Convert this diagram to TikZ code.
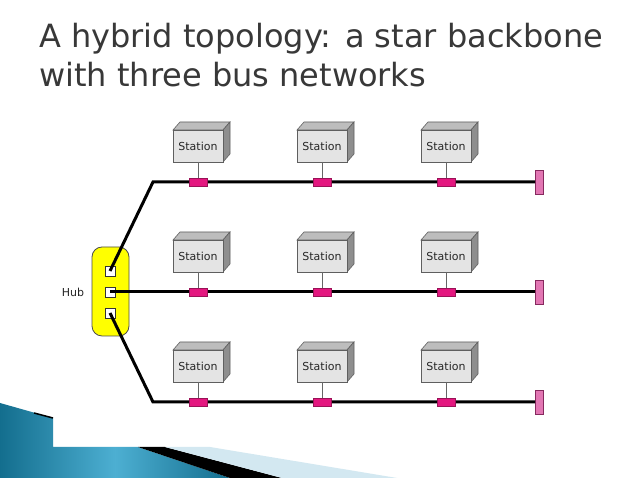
\documentclass[tikz,border=0pt]{standalone}
\usepackage{fontspec}
\setmainfont{DejaVu Sans}
\usetikzlibrary{calc,positioning}

\definecolor{titlegray}{HTML}{383838}
\definecolor{stfront}{HTML}{E4E4E4}
\definecolor{sttop}{HTML}{BDBDBD}
\definecolor{stside}{HTML}{8E8E8E}
\definecolor{stedge}{HTML}{5F5F5F}
\definecolor{hubyellow}{HTML}{FFFF00}
\definecolor{tapfill}{HTML}{E3177F}
\definecolor{tapedge}{HTML}{9A1257}
\definecolor{termfill}{HTML}{E276B3}
\definecolor{termedge}{HTML}{86295E}
\definecolor{decoteal}{HTML}{136E8E}
\definecolor{decolight}{HTML}{4DAFD2}
\definecolor{decopale}{HTML}{D3E8F1}

\begin{document}
\begin{tikzpicture}[
  x=1pt, y=1pt,
  title/.style={font=\fontsize{32}{36}\selectfont, text=titlegray, inner sep=0},
  lbl/.style={font=\fontsize{11}{13}\selectfont, text=black!85},
  station/.style={draw=stedge, fill=stfront, line width=0.6pt,
              minimum width=50, minimum height=32, inner sep=0, outer sep=0,
              font=\fontsize{11}{13}\selectfont, text=black!85,
              append after command={\pgfextra{
                \draw[stedge, fill=sttop, line width=0.6pt] (\tikzlastnode.north west)
                    -- ++(7,8) -- ++(50,0) -- (\tikzlastnode.north east) -- cycle;
                \draw[stedge, fill=stside, line width=0.6pt] (\tikzlastnode.north east)
                    -- ++(7,8) -- ++(0,-32) -- (\tikzlastnode.south east) -- cycle;
              }}},
  hub/.style={draw=black!70, fill=hubyellow, rounded corners=10, line width=0.8pt,
              minimum width=37, minimum height=89, inner sep=0},
  port/.style={draw=black!80, fill=white, minimum size=10, inner sep=0, line width=0.8pt},
  tap/.style={draw=tapedge, fill=tapfill, minimum width=18, minimum height=8,
              inner sep=0, outer sep=0, line width=0.5pt},
  term/.style={draw=termedge, fill=termfill, minimum width=8, minimum height=24,
               inner sep=0, outer sep=0, line width=0.6pt},
  bus/.style={line width=3pt},
  drop/.style={draw=black!60, line width=0.8pt},
]
\fill[white] (0,0) rectangle (638,478);
\useasboundingbox (0,0) rectangle (638,478);

%% ═══ TITLE ════════════════════════════════════════════════════════════
\node[title, anchor=base west] (title1) at (39,430) {A hybrid topology: a star backbone};
\node[title, anchor=base west] (title2) at ([yshift=-39]title1.base west) {with three bus networks};

%% ═══ HUB ══════════════════════════════════════════════════════════════
\node[hub]  (hub) at (110.5,186.5) {};
\node[lbl]  (hublbl) at (73,186) {Hub};
\node[port] (p1) at (110,207) {};
\node[port] (p2) at (110,186) {};
\node[port] (p3) at (110,165) {};

% corners where the backbone meets the upper and lower bus
\coordinate (c1) at (153,296);
\coordinate (c3) at (153,76);

% terminators at the bus ends
\node[term] (term1) at (539,296) {};
\node[term] (term2) at (539,186) {};
\node[term] (term3) at (539,76)  {};

%% ═══ STATIONS ═════════════════════════════════════════════════════════
\node[station] (st11) at (198,332) {Station};
\node[station] (st12) at (322,332) {Station};
\node[station] (st13) at (446,332) {Station};
\node[station] (st21) at (198,222) {Station};
\node[station] (st22) at (322,222) {Station};
\node[station] (st23) at (446,222) {Station};
\node[station] (st31) at (198,112) {Station};
\node[station] (st32) at (322,112) {Station};
\node[station] (st33) at (446,112) {Station};

%% ═══ BUSES ════════════════════════════════════════════════════════════
\draw[bus] (p1.center) -- (c1) -- (term1);
\draw[bus] (p2.center) -- (term2);
\draw[bus] (p3.center) -- (c3) -- (term3);

% taps on each bus
\node[tap] (t11) at (198,296) {};
\node[tap] (t12) at (322,296) {};
\node[tap] (t13) at (446,296) {};
\node[tap] (t21) at (198,186) {};
\node[tap] (t22) at (322,186) {};
\node[tap] (t23) at (446,186) {};
\node[tap] (t31) at (198,76)  {};
\node[tap] (t32) at (322,76)  {};
\node[tap] (t33) at (446,76)  {};

\draw[drop] (st11) -- (t11);
\draw[drop] (st12) -- (t12);
\draw[drop] (st13) -- (t13);
\draw[drop] (st21) -- (t21);
\draw[drop] (st22) -- (t22);
\draw[drop] (st23) -- (t23);
\draw[drop] (st31) -- (t31);
\draw[drop] (st32) -- (t32);
\draw[drop] (st33) -- (t33);

%% ═══ SLIDE DECORATION ═════════════════════════════════════════════════
\shade[left color=decoteal, right color=decoteal, middle color=decolight]
  (0,75) -- (53,60) -- (53,31) -- (138,31) -- (230,0) -- (0,0) -- cycle;
\draw[black, line width=1.5pt] (34,65) -- (53,60);
\fill[black] (138,31) -- (165,31) -- (282,0) -- (230,0) -- cycle;
\fill[decopale] (165,31) -- (210,31) -- (397,0) -- (282,0) -- cycle;

\end{tikzpicture}
\end{document}
